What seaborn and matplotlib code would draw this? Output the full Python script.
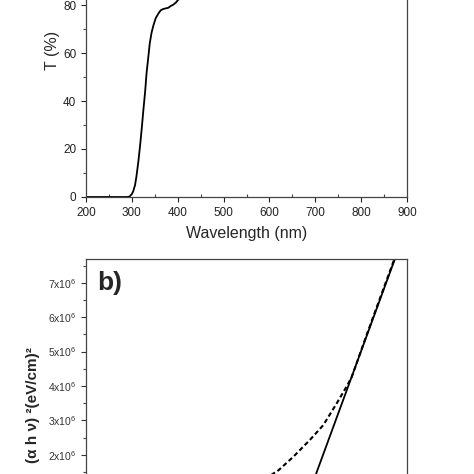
import matplotlib; matplotlib.use("Agg")
import numpy as np
import pandas as pd
import matplotlib.pyplot as plt
import seaborn as sns
from matplotlib.ticker import MultipleLocator, FuncFormatter

# panel a: transmittance spectrum
wl = [200, 250, 290, 295, 300, 303, 307, 310, 314, 318, 322, 325, 329, 332, 336,
      339, 343, 347, 352, 358, 363, 368, 374, 379, 385, 390, 396, 401, 420, 450,
      500, 600, 700, 800, 900]
trans = [0.0, 0.0, 0.0, 0.2, 1.2, 2.4, 5.0, 8.6, 14.5, 21.5, 29.5, 36.0, 44.0, 51.5, 58.5,
         64.0, 68.5, 71.5, 74.5, 76.5, 77.8, 78.3, 78.6, 78.8, 79.6, 80.1, 81.0, 82.2, 84.0, 85.5,
         87.0, 88.5, 89.3, 89.8, 90.2]

# panel b: Tauc plot (photon energy in eV, (alpha h nu)^2 in 1e6 units)
energy = [2.50, 2.80, 3.00, 3.10, 3.15, 3.22, 3.275, 3.337, 3.387, 3.437, 3.474, 3.493,
          3.55, 3.60, 3.65, 3.70]
tauc = [0.30, 0.50, 0.80, 1.00, 1.20, 1.55, 1.94, 2.43, 2.86, 3.49, 3.98, 4.25,
        5.50, 6.57, 7.63, 8.70]
fit_energy = [3.292, 3.70]
fit_tauc = [0.0, 8.65]

sns.set_style("ticks")
plt.rcParams["font.family"] = ["Liberation Sans", "DejaVu Sans"]
plt.rcParams["mathtext.fontset"] = "custom"
plt.rcParams["mathtext.rm"] = "Liberation Sans"

fig = plt.figure(figsize=(4.74, 4.74), dpi=100)
EDGE = "#444444"

# --- top panel (cropped at the top of the image)
ax1 = fig.add_axes([86 / 474, 1 - 197 / 474, 321 / 474, 240 / 474])
sns.lineplot(x=wl, y=trans, ax=ax1, color="black", lw=1.3)
ax1.set_xlim(200, 900); ax1.set_ylim(0, 100)
ax1.xaxis.set_major_locator(MultipleLocator(100))
ax1.xaxis.set_minor_locator(MultipleLocator(50))
ax1.yaxis.set_major_locator(MultipleLocator(20))
ax1.yaxis.set_minor_locator(MultipleLocator(10))
ax1.tick_params(which="major", length=3.5, width=0.8, labelsize=8.5, colors="#222222")
ax1.tick_params(axis="x", which="minor", direction="in", length=2.5, width=0.8, color=EDGE)
ax1.tick_params(axis="y", which="minor", length=2, width=0.8, color=EDGE)
ax1.set_xlabel("Wavelength (nm)", fontsize=11.5, labelpad=5)
ax1.set_ylabel("T (%)", fontsize=11.5)
ax1.yaxis.set_label_coords(-0.081, 0.6125)

# --- bottom panel (cropped at the bottom of the image)
ax2 = fig.add_axes([86 / 474, 1 - 523.5 / 474, 321 / 474, 264.5 / 474])
sns.lineplot(x=energy, y=tauc, ax=ax2, color="black", lw=1.5, dashes=False)
ax2.lines[-1].set_dashes((2.2, 1.4))
sns.lineplot(x=fit_energy, y=fit_tauc, ax=ax2, color="black", lw=1.3)
ax2.set_xlim(2.5, 3.7); ax2.set_ylim(0, 7.69)
ax2.yaxis.set_major_locator(MultipleLocator(1))
ax2.yaxis.set_minor_locator(MultipleLocator(0.5))
ax2.yaxis.set_major_formatter(FuncFormatter(lambda v, p: r"%dx10$^6$" % round(v) if v > 0.5 else "0"))
ax2.tick_params(which="major", length=3.5, width=0.8, labelsize=7.5, colors="#333333")
ax2.tick_params(which="minor", length=2, width=0.8, color=EDGE)
ax2.set_ylabel("(α h ν) ²(eV/cm)²", fontsize=11, fontweight="bold")
ax2.yaxis.set_label_coords(-0.143, 0.448)
ax2.text(0.035, 0.955, "b)", transform=ax2.transAxes, fontsize=19, fontweight="bold",
         va="top", ha="left")

for ax in (ax1, ax2):
    for s in ax.spines.values():
        s.set_visible(True); s.set_color(EDGE); s.set_linewidth(0.9)

fig.savefig("out.png", dpi=100)
